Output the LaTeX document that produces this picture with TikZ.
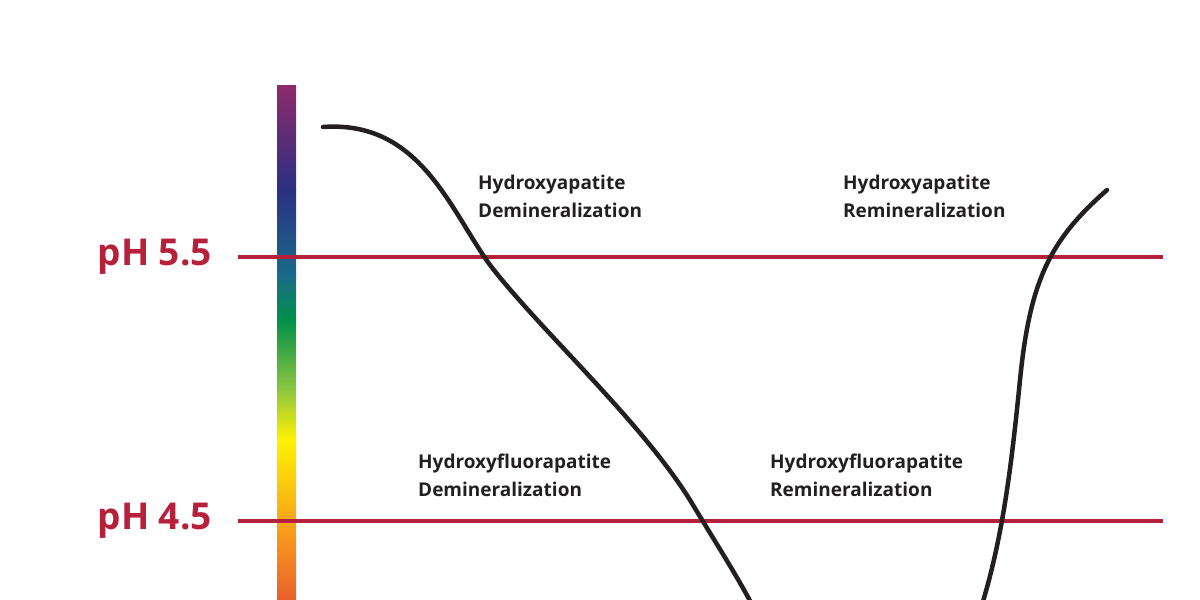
\documentclass[tikz,border=0pt]{standalone}
\usepackage{fontspec}
\setmainfont{Open Sans}
\definecolor{phred}{HTML}{B5203A}
\definecolor{ink}{HTML}{231F20}
\definecolor{c1}{HTML}{8E2A6A}
\definecolor{c2}{HTML}{2B2F84}
\definecolor{c3}{HTML}{1A6B8A}
\definecolor{c4}{HTML}{00904A}
\definecolor{c5}{HTML}{8DC63F}
\definecolor{c6}{HTML}{FFF200}
\definecolor{c7}{HTML}{F7941D}
\definecolor{c8}{HTML}{E8602C}
\begin{document}
\begin{tikzpicture}[x=1pt,y=-1pt,
  lbl/.style={font=\bfseries\fontsize{19}{28}\selectfont, text=ink, align=left, anchor=north west, inner sep=0pt},
  phlbl/.style={font=\bfseries\fontsize{37}{40}\selectfont, text=phred, anchor=east, inner sep=0pt},
  phline/.style={draw=phred, line width=4pt}]
\useasboundingbox (0,0) rectangle (1200,600);
\begin{scope}
\clip (0,0) rectangle (1200,600);
\shade[top color=c1,bottom color=c2] (277,85) rectangle (296,190);
\shade[top color=c2,bottom color=c3] (277,189.5) rectangle (296,275);
\shade[top color=c3,bottom color=c4] (277,274.5) rectangle (296,320);
\shade[top color=c4,bottom color=c5] (277,319.5) rectangle (296,390);
\shade[top color=c5,bottom color=c6] (277,389.5) rectangle (296,440);
\shade[top color=c6,bottom color=c7] (277,439.5) rectangle (296,540);
\shade[top color=c7,bottom color=c8] (277,539.5) rectangle (296,600);
\coordinate (a1) at (238,257); \coordinate (a2) at (1163,257);
\coordinate (b1) at (238,521); \coordinate (b2) at (1163,521);
\draw[phline] (a1) -- (a2);
\draw[phline] (b1) -- (b2);
\draw[ink, line width=4.5pt, line cap=round]
  (323,127) .. controls (420,120) and (450,210) .. (490,265)
  .. controls (540,330) and (640,420) .. (690,500)
  .. controls (720,550) and (740,580) .. (760,620);
\draw[ink, line width=4.5pt, line cap=round]
  (970,640) .. controls (1000,560) and (1010,480) .. (1020,380)
  .. controls (1030,280) and (1050,240) .. (1107,190);
\end{scope}
\node[phlbl] (p55) at (212,257) {pH 5.5};
\node[phlbl] (p45) at (212,521) {pH 4.5};
\node[lbl] (hd) at (478,175) {Hydroxyapatite\\Demineralization};
\node[lbl] (hr) at (843,175) {Hydroxyapatite\\Remineralization};
\node[lbl] (fd) at (418,454) {Hydroxyfluorapatite\\Demineralization};
\node[lbl] (fr) at (770,454) {Hydroxyfluorapatite\\Remineralization};
\end{tikzpicture}
\end{document}
